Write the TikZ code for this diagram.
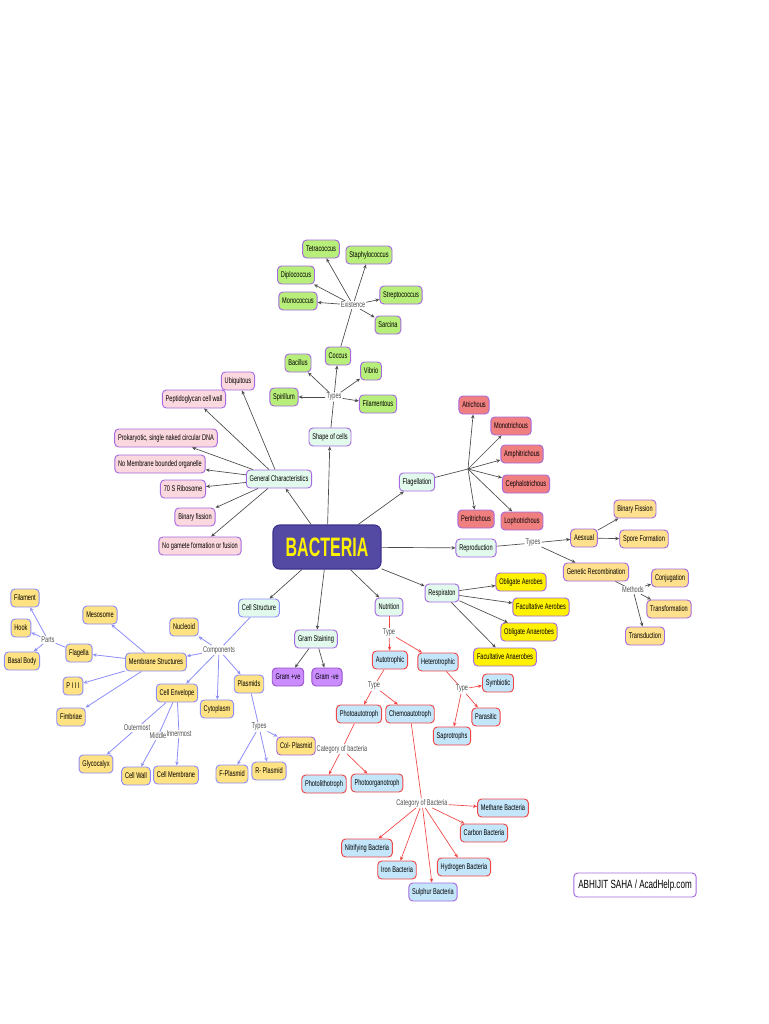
\documentclass[tikz,border=0pt]{standalone}
\usepackage{fontspec}
\setmainfont{Liberation Sans}[FakeStretch=0.68]
\newfontfamily\titlefont{Liberation Sans}[FakeStretch=0.6]
\usetikzlibrary{arrows.meta}

\definecolor{purpline}{RGB}{165,105,225}
\definecolor{blueline}{RGB}{140,140,250}
\definecolor{redline}{RGB}{240,70,70}
\definecolor{grayline}{RGB}{75,75,75}
\definecolor{greenfill}{RGB}{184,238,122}
\definecolor{mintfill}{RGB}{226,250,236}
\definecolor{pinkfill}{RGB}{251,216,222}
\definecolor{salmonfill}{RGB}{240,128,128}
\definecolor{orangefill}{RGB}{255,224,140}
\definecolor{goldfill}{RGB}{255,226,130}
\definecolor{bluefill}{RGB}{196,230,250}
\definecolor{violetfill}{RGB}{202,140,255}
\definecolor{bactfill}{RGB}{84,74,164}
\definecolor{bactline}{RGB}{60,50,140}

\tikzset{
	box/.style={draw=purpline,rounded corners=3pt,line width=0.7pt,inner xsep=2.5pt,inner ysep=1pt,minimum height=13.5pt},
	greenbox/.style={box,fill=greenfill},
	mintbox/.style={box,fill=mintfill},
	pinkbox/.style={box,fill=pinkfill},
	salmonbox/.style={box,fill=salmonfill},
	orangebox/.style={box,fill=orangefill},
	yellowbox/.style={box,fill=yellow},
	goldbox/.style={box,fill=goldfill,draw=blueline},
	bluebox/.style={box,fill=bluefill,draw=redline},
	violetbox/.style={box,fill=violetfill,draw={rgb,255:red,150;green,80;blue,200}},
	lbl/.style={fill=white,inner sep=0.6pt,text={rgb,255:red,80;green,80;blue,80}},
	link/.style={draw=grayline,line width=0.5pt},
	arr/.style={link,-{Stealth[length=3pt,width=2.6pt]}},
	bluelink/.style={draw=blueline,line width=0.6pt},
	bluearr/.style={bluelink,-{Stealth[length=3pt,width=2.6pt]}},
	redlink/.style={draw=redline,line width=0.5pt},
	redarr/.style={redlink,-{Stealth[length=3pt,width=2.6pt]}}
}

\begin{document}
\begin{tikzpicture}[x=0.75pt,y=0.75pt,yscale=-1,xscale=1,font=\fontsize{6.2}{7}\selectfont]
	\useasboundingbox (0,0) rectangle (768,1024);

	% Centre
	\node [draw=bactline,fill=bactfill,rounded corners=5pt,line width=0.8pt,minimum width=81pt,minimum height=33pt,text=yellow,font=\titlefont\bfseries\fontsize{20}{22}\selectfont] (bact) at (327,547) {BACTERIA};

	% Shape of cells
	\node [mintbox] (shape) at (330,437) {Shape of cells};
	\node [lbl] (shtypes) at (334,397) {Types};
	\node [greenbox] (coccus) at (338,356) {Coccus};
	\node [greenbox] (bacillus) at (298,363) {Bacillus};
	\node [greenbox] (vibrio) at (371,371) {Vibrio};
	\node [greenbox] (spirillum) at (284,397) {Spirillum};
	\node [greenbox] (filam) at (378,404) {Filamentous};
	\node [lbl] (exist) at (353,305) {Existence};
	\node [greenbox] (tetra) at (321,249) {Tetracoccus};
	\node [greenbox] (staph) at (369,255) {Staphylococcus};
	\node [greenbox] (diplo) at (296,275) {Diplococcus};
	\node [greenbox] (mono) at (298,301) {Monococcus};
	\node [greenbox] (strep) at (401,295) {Streptococcus};
	\node [greenbox] (sarcina) at (388,325) {Sarcina};

	% General Characteristics
	\node [mintbox] (genchar) at (279,479) {General Characteristics};
	\node [pinkbox] (ubiq) at (238,381) {Ubiquitous};
	\node [pinkbox] (pepti) at (194,399) {Peptidoglycan cell wall};
	\node [pinkbox] (prok) at (166,438) {Prokaryotic, single naked circular DNA};
	\node [pinkbox] (nomem) at (160,464) {No Membrane bounded organelle};
	\node [pinkbox] (ribo) at (183,489) {70 S Ribosome};
	\node [pinkbox] (binfis) at (195,517) {Binary fission};
	\node [pinkbox] (nogam) at (200,546) {No gamete formation or fusion};

	% Flagellation
	\node [mintbox] (flag) at (417,482) {Flagellation};
	\coordinate (fhub) at (468,469);
	\node [salmonbox] (atrich) at (474,405) {Atrichous};
	\node [salmonbox] (monotr) at (511,426) {Monotrichous};
	\node [salmonbox] (amphi) at (522,454) {Amphitrichous};
	\node [salmonbox] (cephalo) at (526,484) {Cephalotrichous};
	\node [salmonbox] (peri) at (476,519) {Peritrichous};
	\node [salmonbox] (lopho) at (522,521) {Lophotrichous};

	% Reproduction
	\node [mintbox] (repro) at (476,548) {Reproduction};
	\node [lbl] (rtypes) at (533,543) {Types};
	\node [orangebox] (asex) at (584,538) {Aesxual};
	\node [orangebox] (binfiss) at (635,509) {Binary Fission};
	\node [orangebox] (spore) at (644,539) {Spore Formation};
	\node [orangebox] (genrec) at (596,572) {Genetic Recombination};
	\node [lbl] (methods) at (633,590) {Methods};
	\node [orangebox] (conj) at (670,578) {Conjugation};
	\node [orangebox] (transf) at (669,609) {Transformation};
	\node [orangebox] (transd) at (645,636) {Transduction};

	% Respiration
	\node [mintbox] (resp) at (442,593) {Respiraton};
	\node [yellowbox] (oblaer) at (521,582) {Obligate Aerobes};
	\node [yellowbox] (facaer) at (541,607) {Facultative Aerobes};
	\node [yellowbox] (oblana) at (529,632) {Obligate Anaerobes};
	\node [yellowbox] (facana) at (505,657) {Facultative Anaerobes};

	% Nutrition
	\node [mintbox] (nutr) at (389,607) {Nutrition};
	\node [lbl] (ntype) at (389,633) {Type};
	\node [bluebox] (auto) at (390,660) {Autotrophic};
	\node [bluebox] (hetero) at (438,662) {Heterotrophic};
	\node [lbl] (atype) at (374,686) {Type};
	\node [lbl] (htype) at (462,689) {Type};
	\node [bluebox] (symb) at (498,683) {Symbiotic};
	\node [bluebox] (paras) at (486,717) {Parasitic};
	\node [bluebox] (sapro) at (452,736) {Saprotrophs};
	\node [bluebox] (photoa) at (359,714) {Photoautotroph};
	\node [bluebox] (chemoa) at (410,714) {Chemoautotroph};
	\node [lbl] (catbac) at (342,749) {Category of bacteria};
	\node [bluebox] (photol) at (324,784) {Photolithotroph};
	\node [bluebox] (photoo) at (377,783) {Photoorganotroph};
	\node [lbl] (catbac2) at (422,803) {Category of Bacteria};
	\node [bluebox] (methane) at (503,808) {Methane Bacteria};
	\node [bluebox] (carbon) at (484,833) {Carbon Bacteria};
	\node [bluebox] (nitrif) at (367,848) {Nitrifying Bacteria};
	\node [bluebox] (iron) at (397,870) {Iron Bacteria};
	\node [bluebox] (hydro) at (464,867) {Hydrogen Bacteria};
	\node [bluebox,draw=purpline] (sulph) at (433,892) {Sulphur Bacteria};

	% Gram Staining
	\node [mintbox] (gram) at (316,639) {Gram Staining};
	\node [violetbox] (gpos) at (288,677) {Gram +ve};
	\node [violetbox] (gneg) at (327,677) {Gram -ve};

	% Cell Structure
	\node [mintbox,draw=blueline] (cellstr) at (259,608) {Cell Structure};
	\node [lbl] (comp) at (219,650) {Components};
	\node [goldbox] (nucl) at (184,627) {Nucleoid};
	\node [goldbox] (memstr) at (156,662) {Membrane Structures};
	\node [goldbox] (cellenv) at (177,693) {Cell Envelope};
	\node [goldbox] (cyto) at (217,709) {Cytoplasm};
	\node [goldbox] (plasm) at (249,684) {Plasmids};
	\node [goldbox] (meso) at (100,615) {Mesosome};
	\node [goldbox] (flagella) at (79,653) {Flagella};
	\node [goldbox] (piii) at (73,686) {P I I I};
	\node [goldbox] (fimb) at (71,717) {Fimbriae};
	\node [lbl] (parts) at (48,640) {Parts};
	\node [goldbox] (filament) at (25,598) {Filament};
	\node [goldbox] (hook) at (21,628) {Hook};
	\node [goldbox] (basal) at (22,661) {Basal Body};
	\node [lbl] (outer) at (137,728) {Outermost};
	\node [lbl] (middle) at (158,736) {Middle};
	\node [lbl] (inner) at (179,734) {Innermost};
	\node [goldbox] (glyco) at (96,764) {Glycocalyx};
	\node [goldbox] (cellwall) at (136,776) {Cell Wall};
	\node [goldbox] (cellmem) at (176,775) {Cell Membrane};
	\node [lbl] (ptypes) at (259,727) {Types};
	\node [goldbox] (fplas) at (232,774) {F-Plasmid};
	\node [goldbox] (rplas) at (269,771) {R- Plasmid};
	\node [goldbox,draw=purpline] (colplas) at (296,746) {Col- Plasmid};

	% Signature
	\node [draw=purpline,rounded corners=3pt,line width=0.7pt,fill=white,minimum width=89pt,minimum height=18pt,font=\fontsize{8.9}{10}\selectfont] (sign) at (635,885) {ABHIJIT SAHA / AcadHelp.com};

	% Links from the centre
	\draw [arr] (bact) -- (shape);
	\draw [arr] (bact) -- (genchar);
	\draw [arr] (bact) -- (flag);
	\draw [arr] (bact) -- (repro);
	\draw [arr] (bact) -- (resp);
	\draw [arr] (bact) -- (nutr);
	\draw [arr] (bact) -- (gram);
	\draw [arr] (bact) -- (cellstr);

	% Shape links
	\draw [link] (shape) -- (shtypes);
	\draw [arr] (shtypes) -- (coccus);
	\draw [arr] (shtypes) -- (bacillus);
	\draw [arr] (shtypes) -- (vibrio);
	\draw [arr] (shtypes) -- (spirillum);
	\draw [arr] (shtypes) -- (filam);
	\draw [link] (coccus) -- (exist);
	\draw [arr] (exist) -- (tetra);
	\draw [arr] (exist) -- (staph);
	\draw [arr] (exist) -- (diplo);
	\draw [arr] (exist) -- (mono);
	\draw [arr] (exist) -- (strep);
	\draw [arr] (exist) -- (sarcina);

	% Characteristics links
	\draw [arr] (genchar) -- (ubiq);
	\draw [arr] (genchar) -- (pepti);
	\draw [arr] (genchar) -- (prok);
	\draw [arr] (genchar) -- (nomem);
	\draw [arr] (genchar) -- (ribo);
	\draw [arr] (genchar) -- (binfis);
	\draw [arr] (genchar) -- (nogam);

	% Flagellation links
	\draw [link] (flag) -- (fhub);
	\draw [arr] (fhub) -- (atrich);
	\draw [arr] (fhub) -- (monotr);
	\draw [arr] (fhub) -- (amphi);
	\draw [arr] (fhub) -- (cephalo);
	\draw [arr] (fhub) -- (peri);
	\draw [arr] (fhub) -- (lopho);

	% Reproduction links
	\draw [link] (repro) -- (rtypes);
	\draw [arr] (rtypes) -- (asex);
	\draw [arr] (rtypes) -- (genrec);
	\draw [arr] (asex) -- (binfiss);
	\draw [arr] (asex) -- (spore);
	\draw [link] (genrec) -- (methods);
	\draw [arr] (methods) -- (conj);
	\draw [arr] (methods) -- (transf);
	\draw [arr] (methods) -- (transd);

	% Respiration links
	\draw [arr] (resp) -- (oblaer);
	\draw [arr] (resp) -- (facaer);
	\draw [arr] (resp) -- (oblana);
	\draw [arr] (resp) -- (facana);

	% Nutrition links
	\draw [redlink] (nutr) -- (ntype);
	\draw [redarr] (ntype) -- (auto);
	\draw [redarr] (ntype) -- (hetero);
	\draw [redlink] (auto) -- (atype);
	\draw [redarr] (atype) -- (photoa);
	\draw [redarr] (atype) -- (chemoa);
	\draw [redlink] (hetero) -- (htype);
	\draw [redarr] (htype) -- (symb);
	\draw [redarr] (htype) -- (paras);
	\draw [redarr] (htype) -- (sapro);
	\draw [redlink] (photoa) -- (catbac);
	\draw [redarr] (catbac) -- (photol);
	\draw [redarr] (catbac) -- (photoo);
	\draw [redlink] (chemoa) -- (catbac2);
	\draw [redarr] (catbac2) -- (methane);
	\draw [redarr] (catbac2) -- (carbon);
	\draw [redarr] (catbac2) -- (hydro);
	\draw [redarr] (catbac2) -- (sulph);
	\draw [redarr] (catbac2) -- (iron);
	\draw [redarr] (catbac2) -- (nitrif);

	% Gram links
	\draw [arr] (gram) -- (gpos);
	\draw [arr] (gram) -- (gneg);

	% Cell structure links
	\draw [bluelink] (cellstr) -- (comp);
	\draw [bluearr] (comp) -- (nucl);
	\draw [bluearr] (comp) -- (memstr);
	\draw [bluearr] (comp) -- (cellenv);
	\draw [bluearr] (comp) -- (cyto);
	\draw [bluearr] (comp) -- (plasm);
	\draw [bluearr] (memstr) -- (meso);
	\draw [bluearr] (memstr) -- (flagella);
	\draw [bluearr] (memstr) -- (piii);
	\draw [bluearr] (memstr) -- (fimb);
	\draw [bluelink] (flagella) -- (parts);
	\draw [bluearr] (parts) -- (filament);
	\draw [bluearr] (parts) -- (hook);
	\draw [bluearr] (parts) -- (basal);
	\draw [bluelink] (cellenv) -- (outer);
	\draw [bluelink] (cellenv) -- (middle);
	\draw [bluelink] (cellenv) -- (inner);
	\draw [bluearr] (outer) -- (glyco);
	\draw [bluearr] (middle) -- (cellwall);
	\draw [bluearr] (inner) -- (cellmem);
	\draw [bluelink] (plasm) -- (ptypes);
	\draw [bluearr] (ptypes) -- (fplas);
	\draw [bluearr] (ptypes) -- (rplas);
	\draw [bluearr] (ptypes) -- (colplas);

\end{tikzpicture}
\end{document}
